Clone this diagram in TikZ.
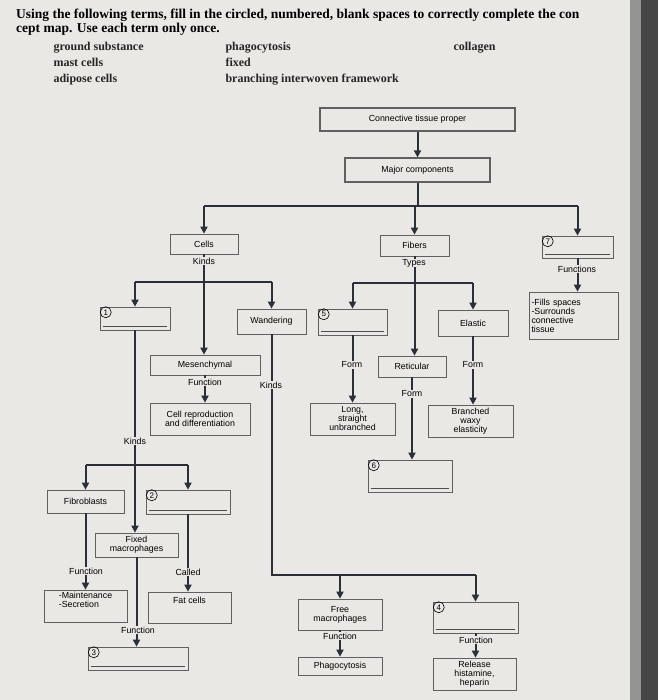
\documentclass[tikz,border=0pt]{standalone}
\usepackage{fontspec}
\setmainfont{Liberation Serif}
\setsansfont{Liberation Sans}
\usetikzlibrary{arrows.meta}
\definecolor{bg}{HTML}{E9E8E4}
\definecolor{ink}{HTML}{2B2F3A}
\begin{document}
\begin{tikzpicture}[x=1pt,y=-1pt,
  box/.style={draw=gray!75!black, line width=0.7pt, fill=bg, font=\sffamily\fontsize{8.8}{9}\selectfont, align=center, inner sep=1pt},
  conn/.style={draw=ink, line width=2pt},
  arr/.style={conn, -{Triangle[length=7pt,width=7pt]}},
  lbl/.style={fill=bg, inner sep=0.5pt, font=\sffamily\fontsize{8.8}{9}\selectfont},
  circnum/.style={circle, draw=black, line width=0.6pt, inner sep=0.3pt, minimum size=11pt, font=\sffamily\fontsize{8}{8}\selectfont},
  term/.style={anchor=base west, font=\bfseries\fontsize{12}{13}\selectfont, text=black!85}]
\fill[bg] (0,0) rectangle (658,700);
% title
\node[anchor=base west, inner sep=0, font=\bfseries\fontsize{13.5}{15}\selectfont] (t1) at (16,19) {Using the following terms, fill in the circled, numbered, blank spaces to correctly complete the con};
\node[anchor=base west, inner sep=0, font=\bfseries\fontsize{13.5}{15}\selectfont] (t2) at (16,33) {cept map. Use each term only once.};
\node[term] (w1) at (50,51) {ground substance};
\node[term] (w2) at (50,67) {mast cells};
\node[term] (w3) at (50,83) {adipose cells};
\node[term] (w4) at (222,51) {phagocytosis};
\node[term] (w5) at (222,67) {fixed};
\node[term] (w6) at (222,83) {branching interwoven framework};
\node[term] (w7) at (450,51) {collagen};
% boxes
\node[box, minimum width=195pt, minimum height=23pt, line width=1.2pt] (ctp) at (417.5,119.5) {Connective tissue proper};
\node[box, minimum width=145pt, minimum height=24pt, line width=1.2pt] (maj) at (417.5,170) {Major components};
\node[box, minimum width=68pt, minimum height=20pt] (cells) at (204,244) {Cells};
\node[box, minimum width=69pt, minimum height=21pt] (fibers) at (414.5,245.5) {Fibers};
\node[box, minimum width=71pt, minimum height=22pt] (b7) at (577.5,247) {};
\node[box, minimum width=89pt, minimum height=47pt, align=left, text width=84pt] (fills) at (573.5,315.5) {-Fills spaces\\-Surrounds\\ connective\\ tissue};
\node[box, minimum width=70pt, minimum height=23pt] (b1) at (135,318.5) {};
\node[box, minimum width=110pt, minimum height=20pt] (mes) at (205,365) {Mesenchymal};
\node[box, minimum width=69pt, minimum height=25pt] (wand) at (271.5,321.5) {Wandering};
\node[box, minimum width=100pt, minimum height=32pt] (crd) at (200,419) {Cell reproduction\\and differentiation};
\node[box, minimum width=69pt, minimum height=26pt] (b5) at (352.5,322) {};
\node[box, minimum width=68pt, minimum height=21pt] (ret) at (412,366.5) {Reticular};
\node[box, minimum width=70pt, minimum height=26pt] (ela) at (473,323) {Elastic};
\node[box, minimum width=85pt, minimum height=32pt] (long) at (352.5,419) {Long,\\straight\\unbranched};
\node[box, minimum width=85pt, minimum height=32pt] (bra) at (470.5,421) {Branched\\waxy\\elasticity};
\node[box, minimum width=84pt, minimum height=32pt] (b6) at (410,476) {};
\node[box, minimum width=77pt, minimum height=23pt] (fib) at (85.5,501.5) {Fibroblasts};
\node[box, minimum width=84pt, minimum height=24pt] (b2) at (188,502) {};
\node[box, minimum width=83pt, minimum height=24pt] (fixm) at (136.5,545) {Fixed\\macrophages};
\node[box, minimum width=83pt, minimum height=32pt, align=left] (maint) at (85.5,606) {-Maintenance\\-Secretion\\[4pt]};
\node[box, minimum width=83pt, minimum height=31pt] (fat) at (189.5,607.5) {Fat cells\\[6pt]};
\node[box, minimum width=100pt, minimum height=23pt] (b3) at (138,658.5) {};
\node[box, minimum width=84pt, minimum height=31pt] (freem) at (340,614.5) {Free\\macrophages};
\node[box, minimum width=85pt, minimum height=31pt] (b4) at (475.5,617.5) {};
\node[box, minimum width=84pt, minimum height=18pt] (phag) at (340,666) {Phagocytosis};
\node[box, minimum width=83pt, minimum height=32pt] (rel) at (474.5,674) {Release\\histamine,\\heparin};
% blanks
\foreach \b/\n in {b1/1,b2/2,b3/3,b4/4,b5/5,b6/6,b7/7}{
  \node[circnum, anchor=north west] (c\b) at ([shift={(2pt,-1.5pt)}]\b.north west) {\n};
  \draw[gray!60!black, line width=0.7pt] ([shift={(3pt,4pt)}]\b.south west) -- ([shift={(-3pt,4pt)}]\b.south east);
}
% buses
\coordinate (bus0) at (0,206);
\coordinate (busc) at (0,282);
\coordinate (busf) at (0,283);
\coordinate (busk) at (0,465);
\coordinate (busw) at (0,575);
% connectors
\draw[arr] (ctp.south) -- (maj.north);
\draw[conn] (maj.south) -- (maj.south |- bus0);
\draw[conn] (cells.north |- bus0) -- (b7.north |- bus0);
\draw[arr] (cells.north |- bus0) -- (cells.north);
\draw[arr] (fibers.north |- bus0) -- (fibers.north);
\draw[arr] (b7.north |- bus0) -- (b7.north);
\draw[arr] (b7.south) -- (fills.north -| b7.south);
% cells
\draw[conn] (cells.south) -- (cells.south |- busc);
\draw[conn] (b1.north |- busc) -- (wand.north |- busc);
\draw[arr] (b1.north |- busc) -- (b1.north);
\draw[arr] (cells.south |- busc) -- (mes.north -| cells.south);
\draw[arr] (wand.north |- busc) -- (wand.north);
\draw[arr] (mes.south) -- (crd.north -| mes.south);
\draw[conn] (b1.south) -- (b1.south |- busk);
\draw[conn] (fib.north |- busk) -- (b2.north |- busk);
\draw[arr] (fib.north |- busk) -- (fib.north);
\draw[arr] (b1.south |- busk) -- (fixm.north -| b1.south);
\draw[arr] (b2.north |- busk) -- (b2.north);
\draw[arr] (fib.south) -- (maint.north -| fib.south);
\draw[arr] (b2.south) -- (fat.north -| b2.south);
\draw[arr] (fixm.south) -- (b3.north -| fixm.south);
\draw[conn] (wand.south) -- (wand.south |- busw) -- (b4.north |- busw);
\draw[arr] (freem.north |- busw) -- (freem.north);
\draw[arr] (b4.north |- busw) -- (b4.north);
\draw[arr] (freem.south) -- (phag.north);
\draw[arr] (b4.south) -- (rel.north -| b4.south);
% fibers
\draw[conn] (fibers.south) -- (fibers.south |- busf);
\draw[conn] (b5.north |- busf) -- (ela.north |- busf);
\draw[arr] (b5.north |- busf) -- (b5.north);
\draw[arr] (ela.north |- busf) -- (ela.north);
\draw[arr] (fibers.south |- busf) -- (ret.north -| fibers.south);
\draw[arr] (b5.south) -- (long.north -| b5.south);
\draw[arr] (ela.south) -- (bra.north -| ela.south);
\draw[arr] (ret.south) -- (b6.north -| ret.south);
% labels
\node[lbl] (l1) at (204,261) {Kinds};
\node[lbl] (l2) at (414,263) {Types};
\node[lbl] (l3) at (577,269) {Functions};
\node[lbl] (l4) at (205,382) {Function};
\node[lbl] (l5) at (271,385) {Kinds};
\node[lbl] (l6) at (135,441) {Kinds};
\node[lbl] (l7) at (352,365) {Form};
\node[lbl] (l8) at (473,365) {Form};
\node[lbl] (l9) at (412,394) {Form};
\node[lbl] (l10) at (86,571) {Function};
\node[lbl] (l11) at (188,572) {Called};
\node[lbl] (l12) at (138,630) {Function};
\node[lbl] (l13) at (340,636) {Function};
\node[lbl] (l14) at (476,640) {Function};
% screen edge
\fill[gray!80!bg] (630,0) rectangle (641,700);
\fill[gray!55!black] (641,0) rectangle (658,700);
\end{tikzpicture}
\end{document}
